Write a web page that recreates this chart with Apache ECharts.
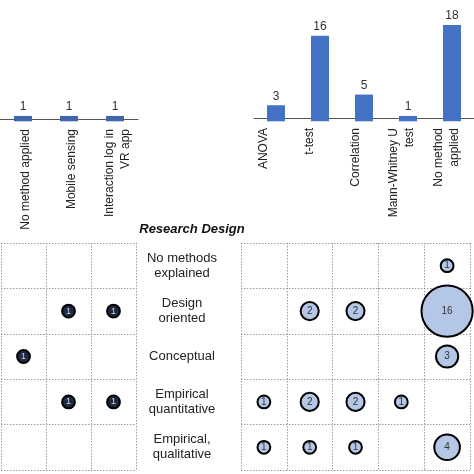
<!DOCTYPE html>
<html>
<head>
<meta charset="utf-8">
<script src="https://cdn.jsdelivr.net/npm/echarts@6/dist/echarts.min.js"></script>
<style>html,body{margin:0;padding:0;background:#fff}#c{width:474px;height:474px}</style>
</head>
<body>
<div id="c"></div>
<script>
// ---- data ----
const leftCats = ['No method applied', 'Mobile sensing', 'Interaction log in\nVR app'];
const leftVals = [1, 1, 1];
const rightCats = ['ANOVA', 't-test', 'Correlation', 'Mann-Whitney U\ntest', 'No method\napplied'];
const rightVals = [3, 16, 5, 1, 18];
const designRows = ['No methods\nexplained', 'Design\noriented', 'Conceptual', 'Empirical\nquantitative', 'Empirical,\nqualitative'];
// [column index, row index, count]
const leftBubbles = [[1, 1, 1], [2, 1, 1], [0, 2, 1], [1, 3, 1], [2, 3, 1]];
const rightBubbles = [[4, 0, 1], [1, 1, 2], [2, 1, 2], [4, 1, 16], [4, 2, 3],
  [0, 3, 1], [1, 3, 2], [2, 3, 2], [3, 3, 1], [0, 4, 1], [1, 4, 1], [2, 4, 1], [4, 4, 4]];
const titleText = 'Research Design';

const FONT = 'Liberation Sans, Arial, sans-serif';
const dotted = { show: true, interval: 0, lineStyle: { color: '#9c9c9c', type: [1.5, 1.5], width: 1 } };
const sizeFn = v => 12.8 * Math.sqrt(v[2]);
const rotLabel = { rotate: 90, margin: 10, interval: 0, fontSize: 12, color: '#222', lineHeight: 16, fontFamily: FONT };

const chart = echarts.init(document.getElementById('c'), null, { renderer: 'canvas' });
chart.setOption({
  animation: false,
  textStyle: { fontFamily: FONT },
  grid: [
    { left: 0, width: 138, top: 14.3, height: 107 },
    { left: 254, width: 227, top: 14.3, height: 107 },
    { left: 241, width: 229, top: 14, height: 104 },
    { left: 1, width: 135, top: 243, height: 227 },
    { left: 241, width: 229, top: 243, height: 227 },
    { left: 3, width: 138, top: 14, height: 105 }
  ],
  xAxis: [
    { gridIndex: 0, type: 'category', data: leftCats, offset: -2,
      axisLine: { lineStyle: { color: '#555', width: 1 } },
      axisTick: { length: 4, interval: 0, lineStyle: { color: '#555' } },
      axisLabel: { show: false } },
    { gridIndex: 1, type: 'category', data: rightCats, offset: -3,
      axisLine: { lineStyle: { color: '#555', width: 1 } },
      axisTick: { length: 4, interval: 0, lineStyle: { color: '#555' } },
      axisLabel: { show: false } },
    { gridIndex: 2, type: 'category', data: rightCats,
      axisLine: { show: false }, axisTick: { show: false }, axisLabel: rotLabel },
    { gridIndex: 3, type: 'category', data: leftCats, position: 'bottom',
      axisLine: { show: false }, axisTick: { show: false }, axisLabel: { show: false, interval: 0 },
      splitLine: dotted },
    { gridIndex: 4, type: 'category', data: rightCats, position: 'bottom',
      axisLine: { show: false }, axisTick: { show: false }, axisLabel: { show: false, interval: 0 },
      splitLine: dotted },
    { gridIndex: 5, type: 'category', data: leftCats,
      axisLine: { show: false }, axisTick: { show: false }, axisLabel: rotLabel }
  ],
  yAxis: [
    { gridIndex: 0, type: 'value', min: 0, max: 20, show: false },
    { gridIndex: 1, type: 'value', min: 0, max: 20, show: false },
    { gridIndex: 2, type: 'value', min: 0, max: 1, show: false },
    { gridIndex: 3, type: 'category', data: designRows, inverse: true,
      axisLine: { show: false }, axisTick: { show: false }, axisLabel: { show: false, interval: 0 },
      splitLine: dotted },
    { gridIndex: 4, type: 'category', data: designRows, inverse: true,
      axisLine: { show: false }, axisTick: { show: false },
      axisLabel: { interval: 0, align: 'center', margin: 59, fontSize: 13, color: '#222', lineHeight: 15, fontFamily: FONT },
      splitLine: dotted },
    { gridIndex: 5, type: 'value', min: 0, max: 1, show: false }
  ],
  graphic: [{
    type: 'text', x: 192, y: 229,
    style: { text: titleText, fontFamily: FONT, fontSize: 13, fontWeight: 'bold', fontStyle: 'italic',
      fill: '#111', align: 'center', verticalAlign: 'middle' }
  }],
  series: [
    { type: 'bar', xAxisIndex: 0, yAxisIndex: 0, data: leftVals, barWidth: 18,
      itemStyle: { color: '#3f66ab' },
      label: { show: true, position: 'top', distance: 3, fontSize: 12, color: '#333', fontFamily: FONT } },
    { type: 'bar', xAxisIndex: 1, yAxisIndex: 1, data: rightVals, barWidth: 18,
      itemStyle: { color: '#4472c4' },
      label: { show: true, position: 'top', distance: 3, fontSize: 12, color: '#333', fontFamily: FONT } },
    { type: 'scatter', xAxisIndex: 3, yAxisIndex: 3, data: leftBubbles, symbolSize: sizeFn,
      itemStyle: { color: '#1f2a40', borderColor: '#000', borderWidth: 2, opacity: 1 },
      label: { show: true, position: 'inside', formatter: p => p.value[2], fontSize: 9, color: '#c9d6ee', fontFamily: FONT } },
    { type: 'scatter', xAxisIndex: 4, yAxisIndex: 4, data: rightBubbles, symbolSize: sizeFn,
      itemStyle: { color: '#b4c7e7', borderColor: '#000', borderWidth: 2, opacity: 1 },
      label: { show: true, position: 'inside', formatter: p => p.value[2],
        fontSize: 10, color: '#333', fontFamily: FONT } }
  ]
});
</script>
</body>
</html>
